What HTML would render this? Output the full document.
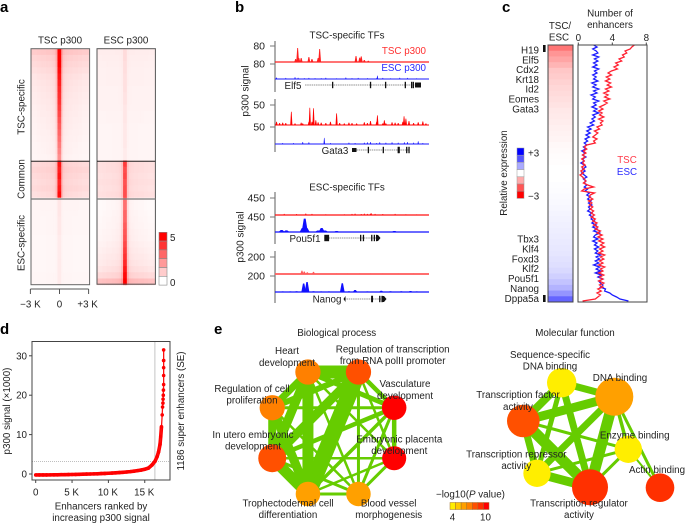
<!DOCTYPE html>
<html lang="en">
<head>
<meta charset="utf-8">
<title>p300 enhancer figure</title>
<style>
html,body{margin:0;padding:0;background:#fff;}
svg{display:block;}
text{font-family:"Liberation Sans",Arial,sans-serif;font-size:9.8px;fill:#222;}
.m{text-anchor:middle;}
.e{text-anchor:end;}
.L{font-size:15px;font-weight:bold;fill:#000;}
</style>
</head>
<body>
<svg id="fig" xmlns="http://www.w3.org/2000/svg" width="685" height="523" viewBox="0 0 685 523">
  <rect width="685" height="523" fill="#fff"/>

  <g id="panel-a">
    <text class="L" x="0" y="12">a</text>
    <text class="m" x="60" y="43.5">TSC p300</text>
    <text class="m" x="126" y="43.5">ESC p300</text>
    <text class="m" transform="translate(24.5,107) rotate(-90)">TSC-specific</text>
    <text class="m" transform="translate(24.5,179) rotate(-90)">Common</text>
    <text class="m" transform="translate(24.5,243) rotate(-90)">ESC-specific</text>
    <g id="heat-tsc"></g>
    <g id="heat-esc"></g>
    <g id="heat-frames" fill="none">
      <rect x="31" y="48.7" width="58.6" height="236" stroke="#666"/>
      <rect x="97" y="48.7" width="58.4" height="235.5" stroke="#555"/>
      <line x1="31" x2="89.6" y1="161.3" y2="161.3" stroke="#222"/>
      <line x1="97" x2="155.4" y1="161.3" y2="161.3" stroke="#222"/>
      <line x1="31" x2="89.6" y1="199" y2="199" stroke="#777" stroke-width="1.2"/>
      <line x1="97" x2="155.4" y1="199" y2="199" stroke="#777" stroke-width="1.2"/>
    </g>
    <g id="heat-axis"></g>
    <g id="heat-legend"></g>
  </g>

  <g id="panel-b">
    <text class="L" x="235" y="12">b</text>
    <text class="m" x="347" y="38.5">TSC-specific TFs</text>
    <text class="m" x="347" y="190.5">ESC-specific TFs</text>
    <text class="m" transform="translate(248.5,91) rotate(-90)" style="font-size:10px">p300 signal</text>
    <text class="m" transform="translate(243.5,237) rotate(-90)" style="font-size:10px">p300 signal</text>
    <text class="e" x="426" y="54" style="fill:#ff3030">TSC p300</text>
    <text class="e" x="426" y="71" style="fill:#2a2aff">ESC p300</text>
    <g id="tracks"></g>
    <text class="m" x="293" y="89">Elf5</text>
    <text class="m" x="335" y="154">Gata3</text>
    <text class="m" x="305" y="242">Pou5f1</text>
    <text class="m" x="327" y="302.5">Nanog</text>
  </g>

  <g id="panel-c">
    <text class="L" x="502" y="12">c</text>
    <text class="m" x="560" y="29">TSC/</text>
    <text class="m" x="559" y="40.5">ESC</text>
    <text class="m" x="610" y="16.5">Number of</text>
    <text class="m" x="610" y="28">enhancers</text>
    <g id="fc-bar"></g>
    <rect x="548" y="45" width="25" height="257" fill="none" stroke="#444"/>
    <g id="gene-names"></g>
    <rect x="543" y="45" width="2.6" height="7" fill="#111"/>
    <rect x="543" y="295" width="2.6" height="7" fill="#111"/>
    <text class="m" transform="translate(507,173) rotate(-90)">Relative expression</text>
    <g id="rel-legend"></g>
    <g id="enh-plot"></g>
    <rect x="578" y="45" width="69" height="257" fill="none" stroke="#444"/>
    <text class="m" x="627" y="163" style="fill:#ff3a4a">TSC</text>
    <text class="m" x="627" y="175" style="fill:#2a2aff">ESC</text>
  </g>

  <g id="panel-d">
    <text class="L" x="0" y="334">d</text>
    <g id="rank-plot"></g>
    <rect x="32" y="341.5" width="138" height="138.5" fill="none" stroke="#444"/>
    <text class="m" transform="translate(10,411) rotate(-90)">p300 signal (×1000)</text>
    <text class="m" transform="translate(184,411) rotate(-90)">1186 super enhancers (SE)</text>
    <text class="m" x="101" y="509.5">Enhancers ranked by</text>
    <text class="m" x="101" y="521">increasing p300 signal</text>
  </g>

  <g id="panel-e">
    <text class="L" x="214" y="334">e</text>
    <text class="m" x="336.7" y="336">Biological process</text>
    <text class="m" x="575" y="336">Molecular function</text>
    <g id="net-bio"></g>
    <g id="net-mol"></g>
    <g>
      <text class="m" x="287" y="354">Heart<tspan x="287" y="366">development</tspan></text>
      <text class="m" x="392.7" y="352.5">Regulation of transcription<tspan x="392.7" y="364">from RNA polII promoter</tspan></text>
      <text class="m" x="405" y="387">Vasculature<tspan x="405" y="399">development</tspan></text>
      <text class="m" x="252" y="392">Regulation of cell<tspan x="252" y="403.5">proliferation</tspan></text>
      <text class="m" x="253" y="438">In utero embryonic<tspan x="253" y="449.5">development</tspan></text>
      <text class="m" x="399.3" y="442.5">Embryonic placenta<tspan x="399.3" y="454">development</tspan></text>
      <text class="m" x="288" y="506.5">Trophectodermal cell<tspan x="288" y="518">differentiation</tspan></text>
      <text class="m" x="388.7" y="506.5">Blood vessel<tspan x="388.7" y="518">morphogenesis</tspan></text>
      <text class="m" x="550" y="358">Sequence-specific<tspan x="550" y="369.5">DNA binding</tspan></text>
      <text class="m" x="620" y="381">DNA binding</text>
      <text class="m" x="518" y="398">Transcription factor<tspan x="518" y="410">activity</tspan></text>
      <text class="m" x="634.7" y="438.5">Enzyme binding</text>
      <text class="m" x="516.3" y="457.5">Transcription repressor<tspan x="516.3" y="469">activity</tspan></text>
      <text class="m" x="657" y="473">Actin binding</text>
      <text class="m" x="579" y="506.5">Transcription regulator<tspan x="579" y="518">activity</tspan></text>
    </g>
    <text x="436" y="497.5">−log10(<tspan font-style="italic">P</tspan> value)</text>
    <g id="p-legend"></g>
  </g>
</svg>

<script>
// ---------- panel a data ----------
const heatProfile = [0,0,0,.01,.01,.02,.02,.02,.03,.03,.04,.05,.07,.2,1,1,.2,.07,.05,.04,.03,.03,.02,.02,.02,.01,.01,0,0,0,0];
const tscCenter = [5,5,5,4.8,4.6,4.4,4.2,4.1,4,3.8,3.6,3.4,3.2,3,2.8,2.6,2.4,2.2, 4.6,4.4,4.6,4.3,4.5,4.8, .5,.5,.5,.45,.45,.45,.4,.4,.4,.4,.4,.4,.4,.4];
const tscFlank = [1,.8,.7,.6,.5,.45,.42,.38,.35,.32,.3,.28,.26,.24,.22,.2,.2,.18, .7,.8,.7,.65,.7,.6, .2,.2,.18,.18,.18,.18,.16,.16,.16,.16,.16,.16,.18,.18];
const escCenter = [.7,.7,.65,.65,.6,.6,.6,.55,.55,.5,.5,.5,.45,.45,.45,.45,.4,.4, 3.8,3.5,3.6,3.4,3.5,3.5, 2.8,2.8,3,3,3.2,3.3,3.4,3.6,3.8,4,4.2,4.5,4.8,5];
const escFlank = [.35,.32,.3,.28,.28,.28,.25,.25,.25,.25,.22,.22,.2,.2,.2,.2,.2,.2, .6,.6,.55,.6,.55,.6, .1,.1,.12,.14,.15,.18,.2,.25,.3,.35,.4,.5,.7,1.2];
const heatTicks = ['−3 K','0','+3 K'];
const heatTickPos = [-3,0,3];
const heatLegendLevels = [5,4,3,2,1,0];

// ---------- panel b data: [position %, signal] ----------
const elf5Tsc = [[13.4,15],[14.7,70],[15.5,20],[17,20],[22,25],[24,15],[28,20],[29,65],[52.6,30],[55,22],[56,28],[58,10],[60.6,6]];
const elf5Esc = [[1,8],[7,6],[13,10],[15,7],[19,5],[22,6],[26,5],[30,5],[33,7],[40,4],[46,8],[50,5],[54,6],[60,5],[66,5],[66.5,18],[70,6],[75,4],[81,7],[86,6],[92,4]];
const gata3Tsc = [[1,8],[3,5],[5,6],[7,5],[10.6,33],[13,4],[17,6],[18,4],[22,8],[22.6,43],[24,8],[25,42],[26.5,12],[28,7],[30,6],[33,5],[36,8],[40,29],[42,5],[45,4],[48,6],[50,5],[53,4],[58,7],[60,5],[62,10],[66,8],[66.5,24],[70,4],[71,12],[72,4],[76,7],[78,6],[80,5],[83,8],[83.8,22],[85,16],[87,10],[90,5],[93,7],[96,9],[98,4]];
const gata3Esc = [[5,3],[12,3],[18,6],[22,5],[32,18],[36,3],[48,4],[52,3],[58,4],[60,5],[62,6],[66,3],[68,5],[72,4],[76,5],[80,4],[84,5],[86,6],[90,4],[93,8],[96,3]];
const pouTsc = [[6,30],[14,25],[20,40],[24,30],[33,20],[45,20],[50,30],[52,35],[56,25],[58,35],[60,30],[62,35],[62.5,45],[65,30],[70,25],[78,30],[85,20],[92,15]];
const pouEsc = [[4.3,60],[7.4,50],[18,120],[19.3,400],[20.5,120],[28,45],[30.3,120],[32.5,45],[40,30],[77.5,30]];
const nanogTsc = [[17.5,40],[19,30],[21,20],[25,25],[40,8],[47,8],[55,8],[62,8],[70,8],[80,8],[90,8]];
const nanogEsc = [[5,8],[10,8],[14,10],[18.6,106],[20.8,125],[25,10],[30,8],[35,8],[43.7,110],[48,10],[52,25],[60,8],[69,15],[75,10],[82,10],[88,12],[92,8]];
const elf5Exons = [37.4,62,71.8,84.6,88.7,89.8];
const gata3Exons = [60.6,70.3,80,80.6,85.5,87];
const pouExons = [55.6,57.4,62.8,64.5,66];
const nanogExons = [62.8,63.2,68,69.5];
const topScaleTicks = [80,50,450,200];

// ---------- panel c data ----------
const foldChange = [1.3,1.0,.85,.7,.53,.48,.42,.38,.34,.3,.26,.22,.2,.17,.14,.12,.1,.07,.05,.03,.02,0,0,0,-.02,-.03,-.05,-.06,-.08,-.1,-.12,-.14,-.16,-.18,-.2,-.22,-.24,-.27,-.3,-.36,-.44,-.56,-.72,-1,-1.45];
const tscEnh = [6.6,6.3,6.1,5.5,5.7,5.2,5.4,4.8,5.1,4.4,4.7,4.2,4.6,3.9,3.5,3.9,3.3,3.7,3.2,3.8,3.4,3.9,3.2,3.6,3.0,3.5,3.1,3.7,3.0,3.4,3.0,2.5,2.9,2.4,2.8,2.5,3.0,2.4,2.9,2.6,2.8,2.2,2.5,1.9,2.3,2.0,1.7,2.2,1.8,2.0,1.0,0.7,1.0,0.6,0.9,0.5,0.8,0.4,0.7,0.5,0.8,0.4,0.7,0.3,0.6,0.2,0.5,0.7,0.9,0.6,1.1,1.8,0.7,0.4,1.9,1.4,1.3,1.7,1.2,1.6,1.3,1.7,1.4,1.8,1.5,1.9,1.5,2.0,1.7,2.2,1.8,2.3,2.0,2.6,2.2,2.8,2.3,2.9,2.4,3.0,2.6,3.1,2.5,2.9,2.4,3.1,2.6,3.0,2.5,2.9,2.4,3.1,2.6,2.9,2.4,3.0,2.5,2.9,2.4,3.0,2.5,2.9,2.3,2.7,2.2,2.6,2.3,2.0,0.5];
const escEnh = [1.8,2.2,1.7,2.1,2.3,1.7,2.4,1.9,2.3,1.8,2.2,1.7,2.4,1.9,2.2,1.7,2.1,1.8,2.3,1.6,2.1,1.7,2.4,1.8,2.2,1.5,2.0,1.7,2.4,1.8,2.1,1.6,2.2,1.8,2.4,1.7,2.0,1.6,1.9,1.4,1.8,1.1,1.5,1.0,1.4,0.9,1.3,0.8,1.1,0.7,1.0,0.6,0.9,0.4,0.8,0.5,0.9,0.5,0.7,0.3,0.7,0.9,0.5,0.8,0.4,0.7,1.0,0.6,0.9,0.7,1.0,0.7,1.1,0.8,1.3,1.0,1.4,1.1,1.5,1.2,1.6,1.2,1.4,1.1,1.6,1.3,1.7,1.5,1.9,1.6,2.1,1.7,2.2,1.8,2.5,2.0,1.8,2.3,1.7,2.2,1.9,2.4,1.9,2.3,2.0,2.6,2.1,2.5,2.0,2.4,1.8,2.5,2.1,2.6,2.0,2.7,2.3,2.9,2.4,2.6,2.9,2.6,3.2,3.1,3.7,4.0,4.5,4.9,5.9];
const enhTicks = [0,4,8];
const topGenes = ['H19','Elf5','Cdx2','Krt18','Id2','Eomes','Gata3'];
const bottomGenes = ['Tbx3','Klf4','Foxd3','Klf2','Pou5f1','Nanog','Dppa5a'];
const relLevels = [3,2,1,0,-1,-2,-3];

// ---------- panel d data ----------
const rankK = [0,.5,1,1.5,2,2.5,3,3.5,4,4.5,5,5.5,6,6.5,7,7.5,8,8.5,9,9.5,10,10.5,11,11.5,12,12.5,13,13.5,14,14.5,15,15.5,16,16.4,16.7,16.9,17.1,17.2,17.3,17.4,17.45,17.5,17.52,17.55,17.57,17.6,17.6,17.6,17.6,17.6,17.6];
const signalK = [-.25,-.25,-.24,-.23,-.22,-.21,-.2,-.18,-.17,-.15,-.13,-.1,-.08,-.05,-.02,0,.03,.06,.1,.14,.19,.24,.3,.36,.43,.51,.6,.72,.85,1,1.2,1.5,2.3,3.2,4.4,5.6,7.5,9.5,12,15,17,18,19,20,21.3,22.7,25,27,28.8,28.8,31.5];
const rankXTicks = [0,5,10,15];
const rankYTicks = [0,10,20,30];
const seThreshold = [16.4,3.2];

// ---------- panel e data ----------
const pColors = ['#ffee00','#ffc800','#ffa000','#ff8000','#ff5000','#ff3000','#ff0000'];
const pTickValues = [4,10];
const bioP = [7,8,10,10,6,6,8,7];
const bioGenes = [160,160,150,145,150,150,195,160];
const bioNames = ['heart','regulation-transcription','vasculature','placenta','blood-vessel','trophectodermal','in-utero','cell-proliferation'];
const bioEdges = [[0,1,13],[0,7,7],[0,6,9],[0,5,11],[0,2,5],[0,3,2.5],[0,4,2.5],[1,7,6],[1,6,9],[1,5,16],[1,2,4.5],[1,3,2.5],[1,4,3],[2,3,4.5],[2,4,3],[2,5,3.5],[2,6,4.5],[2,7,3],[3,4,3],[3,5,2.5],[3,6,2.5],[7,6,8],[7,5,9],[6,5,11],[5,4,3],[6,4,3],[7,4,2.5]];
const molP = [4,6,8,4,4,9,9];
const molGenes = [216,361,266,187,187,324,205];
const molNames = ['sequence-specific','dna-binding','tf-activity','enzyme-binding','repressor','regulator','actin-binding'];
const molEdges = [[0,1,7],[0,2,8],[0,5,7],[0,4,5],[1,2,9],[1,5,11],[1,4,7],[1,3,3.5],[1,6,3],[2,5,11],[2,4,7],[2,3,3],[4,5,9],[4,3,3],[5,3,3],[3,6,2]];
const molLayout = [[561.7,382.7],[614.3,396.7],[523.3,421],[628.3,449.3],[537,473.3],[590,487.3],[660,487.7]];

// ---------- helpers ----------
const NS = 'http://www.w3.org/2000/svg';
function mk(tag, attrs, parent){
  const n = document.createElementNS(NS, tag);
  for (const k in attrs) n.setAttribute(k, attrs[k]);
  parent.appendChild(n);
  return n;
}
function label(parent, str, x, y, anchor, name){
  const t = mk('text', {x:x, y:y, 'text-anchor':anchor}, parent);
  t.textContent = str;
  
  
  return t;
}
const $ = id => document.getElementById(id);

// ---------- panel a ----------
function drawHeat(groupId, centers, flanks, x0, x1, name){
  const g = $(groupId);
  const rowY = r => 48.7 + r * 236 / centers.length;
  const colX = c => x0 + c * (x1 - x0) / heatProfile.length;
  const red = v => { const t = Math.min(1, v / 5); const c = Math.round(255 * (1 - t)); return 'rgb(255,' + c + ',' + c + ')'; };
  centers.forEach((cv, r) => {
    heatProfile.forEach((p, c) => {
      const v = flanks[r] + (cv - flanks[r]) * p;
      const cell = mk('rect', {x:colX(c), y:rowY(r), width:(x1-x0)/heatProfile.length+.4, height:236/centers.length+.4, fill:red(v)}, g);
      
      
    });
  });
}
drawHeat('heat-tsc', tscCenter, tscFlank, 31, 89.6, 'tsc-heatmap');
drawHeat('heat-esc', escCenter, escFlank, 96.6, 155.2, 'esc-heatmap');

(function(){
  const g = $('heat-axis');
  const x = k => 59.5 + k * 9.7;
  const axis = mk('line', {x1:x(-3), x2:x(3), y1:289, y2:289, stroke:'#555'}, g);
  
  
  heatTickPos.forEach((k, i) => {
    const t = mk('line', {x1:x(k), x2:x(k), y1:289, y2:294, stroke:'#555'}, g);
    
    
    label(g, heatTicks[i], x(k) + (k === 3 ? -1 : 0), 307.5, 'middle', 'heatmap-x-tick-label');
  });
  const lg = $('heat-legend');
  heatLegendLevels.forEach((lv, i) => {
    const c = Math.round(255 * (1 - lv / 5));
    const r = mk('rect', {x:159, y:232.3 + i * 8.8, width:8, height:8.8, fill:'rgb(255,' + c + ',' + c + ')', stroke:'#888', 'stroke-width':.6}, lg);
    
    
  });
  label(lg, '5', 170, 241, 'start', 'heatmap-legend-max');
  label(lg, '0', 170, 286, 'start', 'heatmap-legend-min');
})();

// ---------- panel b ----------
const trackX = p => 275 + p * 1.54;
function drawTrack(g, peaks, base, pxPerUnit, color, halfWidth, thick, name){
  const trackY = v => base - v * pxPerUnit;
  peaks.forEach(pk => {
    const poly = mk('polygon', {points:
      trackX(pk[0]-halfWidth) + ',' + base + ' ' +
      trackX(pk[0]-halfWidth*.3) + ',' + trackY(pk[1]) + ' ' +
      trackX(pk[0]+halfWidth*.3) + ',' + trackY(pk[1]) + ' ' +
      trackX(pk[0]+halfWidth) + ',' + base, fill:color}, g);
    
    
  });
  const l = mk('line', {x1:trackX(0), x2:trackX(100), y1:base, y2:base, stroke:color, 'stroke-width':thick}, g);
  
  
}
function drawGene(g, exons, start, end, y, name){
  const l = mk('line', {x1:trackX(start), x2:trackX(end), y1:y, y2:y, stroke:'#c8c8c8', 'stroke-width':2, 'stroke-dasharray':'1.5 .7'}, g);
  
  
  exons.forEach(e => {
    const r = mk('rect', {x:trackX(e)-.6, y:y-3.2, width:1.3, height:6.4, fill:'#111'}, g);
    
    
  });
}
function drawAxis(g, y0, y1, tickYs, tickLabel, name){
  const l = mk('line', {x1:275, x2:275, y1:y0, y2:y1, stroke:'#777', 'stroke-width':1.2}, g);
  
  
  tickYs.forEach(ty => {
    const t = mk('line', {x1:270, x2:275, y1:ty, y2:ty, stroke:'#777'}, g);
    
    
    const lbl = label(g, tickLabel, 265, ty + 3.7, 'end', name + '-tick-label');
    lbl.style.fontSize = '10.5px';
  });
}
(function(){
  const g = $('tracks');
  drawAxis(g, 41, 92, [46,64], topScaleTicks[0], 'elf5-axis');
  drawAxis(g, 99, 152, [105,127], topScaleTicks[1], 'gata3-axis');
  drawAxis(g, 192, 244, [198,217], topScaleTicks[2], 'pou5f1-axis');
  drawAxis(g, 251, 303, [257,276], topScaleTicks[3], 'nanog-axis');
  drawTrack(g, elf5Tsc, 62, 16/80, '#ff2020', .9, 1.3, 'elf5-tsc');
  drawTrack(g, elf5Esc, 79, 15/80, '#1a1aff', .5, 1.1, 'elf5-esc');
  drawTrack(g, gata3Tsc, 125, 20/50, '#ff0000', .7, 1.1, 'gata3-tsc');
  drawTrack(g, gata3Esc, 144, 17/50, '#1a1aff', .5, 1.1, 'gata3-esc');
  drawTrack(g, pouTsc, 215, 17/450, '#ff1010', .6, 1.3, 'pou5f1-tsc');
  drawTrack(g, pouEsc, 232, 15/450, '#1010ff', 2, 1.3, 'pou5f1-esc');
  drawTrack(g, nanogTsc, 274, 17/200, '#ff5a5a', 1, 1.8, 'nanog-tsc');
  drawTrack(g, nanogEsc, 292, 16/200, '#1010ff', 1.5, 1.2, 'nanog-esc');
  drawGene(g, elf5Exons, 19.5, 94, 85, 'elf5-gene');
  const a = mk('rect', {x:trackX(90.9), y:82.5, width:6, height:5, fill:'#111'}, g);
  
  
  drawGene(g, gata3Exons, 50, 87, 150, 'gata3-gene');
  const b = mk('rect', {x:352, y:148, width:4.5, height:4, fill:'#111'}, g);
  
  
  drawGene(g, pouExons, 32, 68, 238, 'pou5f1-gene');
  const c = mk('rect', {x:324.3, y:234.8, width:4.8, height:6.4, fill:'#111'}, g);
  
  
  const c2 = mk('polygon', {points:'376,235 378,235 380.5,238 378,241 376,241', fill:'#111'}, g);
  
  
  drawGene(g, nanogExons, 45, 70, 299, 'nanog-gene');
  const d0 = mk('polygon', {points:'343.5,299 345.5,296 345.5,302', fill:'#111'}, g);
  
  
  const d = mk('polygon', {points:'382,296 384,296 386.5,299 384,302 382,302', fill:'#111'}, g);
  
  
})();

// ---------- panel c ----------
(function(){
  const bar = $('fc-bar');
  const h = 257 / foldChange.length;
  const fcColor = v => {
    const t = Math.min(1, Math.abs(v) / 2.4);
    const c = Math.round(255 * (1 - t));
    return v >= 0 ? 'rgb(255,' + c + ',' + c + ')' : 'rgb(' + c + ',' + c + ',255)';
  };
  foldChange.forEach((v, i) => {
    const r = mk('rect', {x:548, y:45 + i * h, width:25, height:h + .4, fill:fcColor(v)}, bar);
    
    
  });

  const names = $('gene-names');
  topGenes.forEach((n, i) => label(names, n, 539, 53.5 + i * 9.8, 'end', 'gene-name-' + n.toLowerCase()));
  bottomGenes.forEach((n, i) => label(names, n, 539, 242.5 + i * 9.9, 'end', 'gene-name-' + n.toLowerCase()));

  const rel = $('rel-legend');
  const relColor = v => {
    const c = Math.round(255 * (1 - Math.abs(v) / 3));
    return v >= 0 ? 'rgb(' + c + ',' + c + ',255)' : 'rgb(255,' + c + ',' + c + ')';
  };
  relLevels.forEach((v, i) => {
    const r = mk('rect', {x:517, y:148 + i * 7.2, width:7, height:7.2, fill:relColor(v), stroke:'#999', 'stroke-width':.5}, rel);
    
    
  });
  label(rel, '+3', 528, 156.5, 'start', 'relative-expression-max');
  label(rel, '−3', 528, 199.5, 'start', 'relative-expression-min');

  const p = $('enh-plot');
  const x = v => 578.3 + v * 8.5;
  const y = i => 45 + i * 2;
  enhTicks.forEach(t => {
    const tk = mk('line', {x1:x(t), x2:x(t), y1:42.5, y2:45, stroke:'#444'}, p);
    
    
    label(p, String(t), x(t), 41, 'middle', 'enhancer-x-tick-label');
  });
  const esc = mk('polyline', {points:escEnh.map((v, i) => x(v) + ',' + y(i)).join(' '), fill:'none', stroke:'#1a1aff', 'stroke-width':1.3}, p);
  
  
  const tsc = mk('polyline', {points:tscEnh.map((v, i) => x(v) + ',' + y(i)).join(' '), fill:'none', stroke:'#ff2030', 'stroke-width':1.3}, p);
  
  
})();

// ---------- panel d ----------
(function(){
  const g = $('rank-plot');
  const x = k => 35.7 + k * 7.27;
  const y = v => 474 - v * 3.94;
  const gv = mk('line', {x1:x(seThreshold[0]), x2:x(seThreshold[0]), y1:342, y2:480, stroke:'#aaa', 'stroke-width':.7}, g);
  
  
  const gh = mk('line', {x1:32, x2:170, y1:y(seThreshold[1]), y2:y(seThreshold[1]), stroke:'#aaa', 'stroke-width':.7, 'stroke-dasharray':'1 1'}, g);
  
  
  rankXTicks.forEach(t => {
    const tk = mk('line', {x1:x(t), x2:x(t), y1:480, y2:483, stroke:'#444'}, g);
    
    
    label(g, t === 0 ? '0' : t + ' K', x(t) + (t === 0 ? 0 : -.5), 495.5, 'middle', 'rank-x-tick-label');
  });
  rankYTicks.forEach(t => {
    const tk = mk('line', {x1:29, x2:32, y1:y(t), y2:y(t), stroke:'#444'}, g);
    
    
    label(g, String(t), 27, y(t) + 3.5, 'end', 'rank-y-tick-label');
  });
  const thickPts = rankK.map((k, i) => [k, signalK[i]]).filter(p => p[1] < 15);
  const thick = mk('polyline', {points:thickPts.map(p => x(p[0]) + ',' + y(p[1])).join(' '), fill:'none', stroke:'#ff0000', 'stroke-width':3.6}, g);
  
  
  const line = mk('polyline', {points:rankK.map((k, i) => x(k) + ',' + y(signalK[i])).join(' '), fill:'none', stroke:'#ff1010', 'stroke-width':1.3}, g);
  
  
  rankK.forEach((k, i) => {
    const c = mk('circle', {cx:x(k), cy:y(signalK[i]), r:1.8, fill:'#ff0000'}, g);
    
    
  });
})();

// ---------- panel e ----------
function drawNet(g, pos, pvals, genes, names, edges, prefix){
  const edgeColor = '#66cc00';
  edges.forEach(e => {
    const l = mk('line', {x1:pos[e[0]][0], y1:pos[e[0]][1], x2:pos[e[1]][0], y2:pos[e[1]][1], stroke:edgeColor, 'stroke-width':e[2]}, g);
    
    
  });
  pvals.forEach((p, i) => {
    const c = mk('circle', {cx:pos[i][0], cy:pos[i][1], r:Math.sqrt(genes[i]), fill:pColors[Math.max(0, Math.min(6, p - 4))]}, g);
    
    
  });
}
const bioPos = bioP.map((_, i) => {
  const a = (-112.5 + i * 45) * Math.PI / 180;
  return [333.2 + 66 * Math.cos(a), 433 + 66 * Math.sin(a)];
});
drawNet($('net-bio'), bioPos, bioP, bioGenes, bioNames, bioEdges, 'bio');
drawNet($('net-mol'), molLayout, molP, molGenes, molNames, molEdges, 'mol');

(function(){
  const g = $('p-legend');
  const w = 39 / pColors.length;
  pColors.forEach((c, i) => {
    const r = mk('rect', {x:450 + i * w, y:502.5, width:w, height:7, fill:c, stroke:'#a07030', 'stroke-width':.5}, g);
    
    
  });
  pTickValues.forEach(v => {
    label(g, String(v), 452.5 + (v - 4) * 5.5, 520.5, 'middle', 'p-value-tick-label');
  });
})();
</script>
</body>
</html>
